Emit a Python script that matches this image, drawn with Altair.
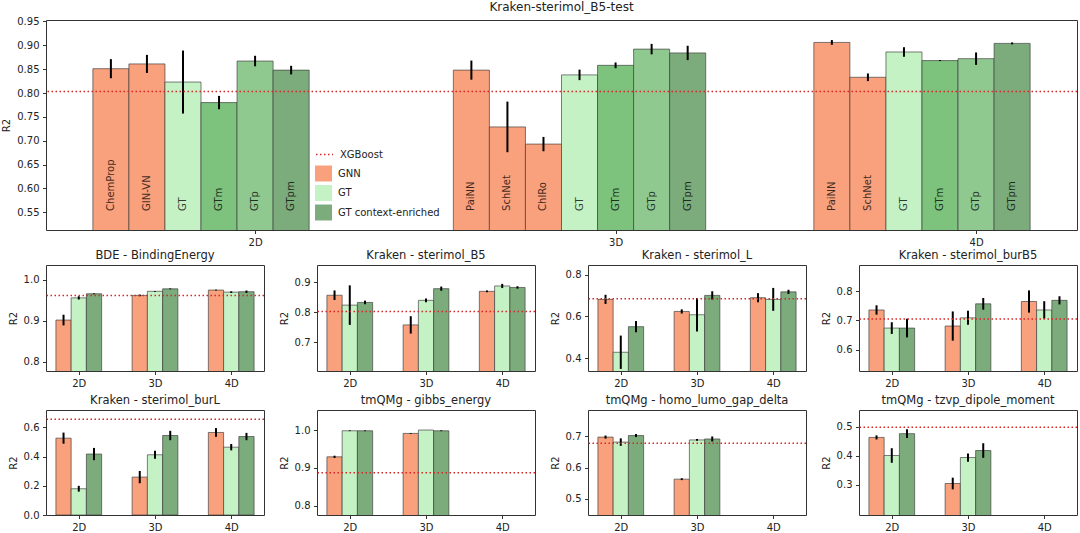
import altair as alt
import pandas as pd

FONT = "DejaVu Sans"
dims = ["2D", "3D", "4D"]

# ---- headline panel: Kraken-sterimol_B5-test, every model per dimension ----
top_models_2d = ["ChemProp", "GIN-VN", "GT", "GTm", "GTp", "GTpm"]
top_r2_2d = [0.851, 0.861, 0.823, 0.780, 0.867, 0.848]
top_err_2d = [0.020, 0.019, 0.066, 0.014, 0.011, 0.009]

top_models_3d = ["PaiNN", "SchNet", "ChIRo", "GT", "GTm", "GTp", "GTpm"]
top_r2_3d = [0.848, 0.729, 0.693, 0.838, 0.858, 0.892, 0.884]
top_err_3d = [0.020, 0.053, 0.015, 0.011, 0.006, 0.011, 0.015]

top_models_4d = ["PaiNN", "SchNet", "GT", "GTm", "GTp", "GTpm"]
top_r2_4d = [0.906, 0.833, 0.886, 0.868, 0.872, 0.904]
top_err_4d = [0.005, 0.008, 0.010, 0.001, 0.013, 0.002]

top_xgboost = 0.803
top_yticks = [0.55, 0.60, 0.65, 0.70, 0.75, 0.80, 0.85, 0.90, 0.95]

# colour family of each model
gnn_models = ["ChemProp", "GIN-VN", "PaiNN", "SchNet", "ChIRo"]
shade_of = {"GT": "GT", "GTm": "GTm", "GTp": "GTp", "GTpm": "GT context-enriched"}

shade_domain = ["GNN", "GT", "GTm", "GTp", "GT context-enriched"]
shade_range = ["#F9A07C", "#C5F2C5", "#7DC27D", "#90C990", "#7CAB7C"]
legend_values = ["GNN", "GT", "GT context-enriched"]

# ---- small panels: best model of each family per dimension ----
families = ["GNN", "GT", "GT context-enriched"]

panel_titles = [
    "BDE - BindingEnergy", "Kraken - sterimol_B5", "Kraken - sterimol_L", "Kraken - sterimol_burB5",
    "Kraken - sterimol_burL", "tmQMg - gibbs_energy", "tmQMg - homo_lumo_gap_delta", "tmQMg - tzvp_dipole_moment",
]

# rows: 2D, 3D, 4D ; columns: GNN, GT, GT context-enriched
bde_r2 = [[0.902, 0.956, 0.966], [0.962, 0.972, 0.978], [0.975, 0.970, 0.971]]
bde_err = [[0.013, 0.004, 0.001], [0.002, 0.001, 0.001], [0.001, 0.002, 0.003]]

b5_r2 = [[0.857, 0.824, 0.833], [0.758, 0.840, 0.879], [0.870, 0.888, 0.883]]
b5_err = [[0.016, 0.066, 0.006], [0.029, 0.006, 0.007], [0.003, 0.007, 0.004]]

l_r2 = [[0.682, 0.428, 0.551], [0.624, 0.608, 0.701], [0.690, 0.682, 0.718]]
l_err = [[0.022, 0.080, 0.027], [0.010, 0.080, 0.020], [0.022, 0.055, 0.010]]

burb5_r2 = [[0.736, 0.674, 0.674], [0.681, 0.709, 0.757], [0.765, 0.736, 0.769]]
burb5_err = [[0.016, 0.020, 0.032], [0.050, 0.024, 0.020], [0.038, 0.030, 0.014]]

burl_r2 = [[0.527, 0.180, 0.418], [0.260, 0.413, 0.545], [0.566, 0.465, 0.538]]
burl_err = [[0.038, 0.020, 0.042], [0.042, 0.028, 0.032], [0.030, 0.022, 0.025]]

gibbs_r2 = [[0.929, 0.998, 0.998], [0.991, 1.000, 0.998], [None, None, None]]
gibbs_err = [[0.003, 0.001, 0.001], [0.001, 0.000, 0.001], [None, None, None]]

gap_r2 = [[0.698, 0.682, 0.703], [0.563, 0.689, 0.692], [None, None, None]]
gap_err = [[0.005, 0.012, 0.005], [0.003, 0.003, 0.008], [None, None, None]]

dip_r2 = [[0.463, 0.401, 0.476], [0.305, 0.394, 0.418], [None, None, None]]
dip_err = [[0.007, 0.025, 0.015], [0.020, 0.014, 0.025], [None, None, None]]

panel_r2 = [bde_r2, b5_r2, l_r2, burb5_r2, burl_r2, gibbs_r2, gap_r2, dip_r2]
panel_err = [bde_err, b5_err, l_err, burb5_err, burl_err, gibbs_err, gap_err, dip_err]
panel_xgboost = [0.962, 0.803, 0.685, 0.705, 0.657, 0.887, 0.678, 0.498]

# axis ranges and ticks of each small panel
panel_ydomain = [
    [0.778, 1.036], [0.604, 0.958], [0.338, 0.847], [0.527, 0.890],
    [0.0, 0.720], [0.775, 1.053], [0.448, 0.785], [0.197, 0.557],
]
panel_yticks = [
    [0.8, 0.9, 1.0], [0.7, 0.8, 0.9], [0.4, 0.6, 0.8], [0.6, 0.7, 0.8],
    [0.0, 0.2, 0.4, 0.6], [0.8, 0.9, 1.0], [0.5, 0.6, 0.7], [0.3, 0.4, 0.5],
]

BAR_EDGE = dict(stroke="#3a3a3a", strokeWidth=1, strokeOpacity=0.65)
XGB_COLOR = "#d62728"
DIM_LABELS = "datum.value == 0 ? '2D' : datum.value == 1 ? '3D' : '4D'"

shade_scale = alt.Scale(domain=shade_domain, range=shade_range)


def x_axis():
    return alt.Axis(values=[0, 1, 2], labelExpr=DIM_LABELS, title=None, ticks=True,
                    labelOverlap=False)


def y_axis(values, fmt):
    return alt.Axis(values=values, format=fmt, title="R2", labelOverlap=False,
                    tickCount=len(values))


# ---------------- headline panel ----------------
top_rows = []
groups = [
    (top_models_2d, top_r2_2d, top_err_2d),
    (top_models_3d, top_r2_3d, top_err_3d),
    (top_models_4d, top_r2_4d, top_err_4d),
]
TOP_W = 0.1
for d, (models, vals, errs) in enumerate(groups):
    for k, (m, v, e) in enumerate(zip(models, vals, errs)):
        pos = d + (k - 4) * TOP_W
        top_rows.append(dict(
            model=m, r2=v, lo=v - e, hi=v + e,
            x0=pos - TOP_W / 2, x1=pos + TOP_W / 2, pos=pos,
            shade="GNN" if m in gnn_models else shade_of[m],
        ))
top_df = pd.DataFrame(top_rows)

top_x = alt.Scale(domain=[-0.58, 2.28], nice=False, zero=False)
top_y = alt.Scale(domain=[0.513, 0.953], nice=False, zero=False)

top_base = alt.Chart(top_df)
top_bars = top_base.mark_bar(clip=True, **BAR_EDGE).encode(
    x=alt.X("x0:Q", scale=top_x, axis=x_axis()),
    x2="x1:Q",
    y=alt.Y("r2:Q", scale=top_y, axis=y_axis(top_yticks, ".2f")),
    y2=alt.datum(0),
    fill=alt.Fill("shade:N", scale=shade_scale, legend=alt.Legend(
        values=legend_values, title=None, orient="none", legendX=269, legendY=145,
        symbolType="M-1,-0.94H1V0.94H-1Z", symbolSize=289, symbolStrokeWidth=0,
        symbolOpacity=1, labelFontSize=10, labelFont=FONT, labelOffset=6,
        rowPadding=2.5, labelColor="#222",
    )),
)
top_errs = top_base.mark_rule(color="black", strokeWidth=2, clip=True).encode(
    x="pos:Q", y="lo:Q", y2="hi:Q"
)
top_names = top_base.mark_text(
    angle=270, align="left", baseline="middle", fontSize=10, font=FONT,
    color="black", opacity=0.75,
).encode(x="pos:Q", y=alt.datum(0.553), text="model:N")

xgb_df = pd.DataFrame({"method": ["XGBoost"], "r2": [top_xgboost]})
top_rule = alt.Chart(xgb_df).mark_rule(strokeDash=[1.5, 2.5], strokeWidth=1.5).encode(
    y="r2:Q",
    stroke=alt.Stroke("method:N", scale=alt.Scale(domain=["XGBoost"], range=[XGB_COLOR]),
                      legend=alt.Legend(
                          title=None, orient="none", legendX=269, legendY=125,
                          symbolType="stroke", symbolDash=[1.5, 2.5], symbolStrokeWidth=1.5,
                          symbolSize=289, labelFontSize=10, labelFont=FONT, labelOffset=6,
                          labelColor="#222",
                      )),
)

top_chart = alt.layer(top_bars, top_errs, top_rule, top_names).properties(
    width=1031, height=210,
    title=alt.TitleParams("Kraken-sterimol_B5-test", fontSize=12, offset=2),
)


# ---------------- small panels ----------------
SUB_W = 0.2


def small_panel(i, height):
    rows = []
    for d, (vals, errs) in enumerate(zip(panel_r2[i], panel_err[i])):
        for k, (v, e) in enumerate(zip(vals, errs)):
            if v is None:
                continue
            pos = d + (k - 1) * SUB_W
            rows.append(dict(r2=v, lo=v - e, hi=v + e, pos=pos,
                             x0=pos - SUB_W / 2, x1=pos + SUB_W / 2, shade=families[k]))
    df = pd.DataFrame(rows)
    xs = alt.Scale(domain=[-0.43, 2.43], nice=False, zero=False)
    ys = alt.Scale(domain=panel_ydomain[i], nice=False, zero=False)
    base = alt.Chart(df)
    bars = base.mark_bar(clip=True, **BAR_EDGE).encode(
        x=alt.X("x0:Q", scale=xs, axis=x_axis()),
        x2="x1:Q",
        y=alt.Y("r2:Q", scale=ys, axis=y_axis(panel_yticks[i], ".1f")),
        y2=alt.datum(0),
        fill=alt.Fill("shade:N", scale=shade_scale, legend=None),
    )
    errs = base.mark_rule(color="black", strokeWidth=2, clip=True).encode(
        x="pos:Q", y="lo:Q", y2="hi:Q"
    )
    rule = alt.Chart(pd.DataFrame({"r2": [panel_xgboost[i]]})).mark_rule(
        color=XGB_COLOR, strokeDash=[1.5, 2.5], strokeWidth=1.5
    ).encode(y="r2:Q")
    return alt.layer(bars, errs, rule).properties(
        width=218, height=height,
        title=alt.TitleParams(panel_titles[i], fontSize=11.5, offset=4),
    )


row1 = alt.hconcat(*[small_panel(i, 106) for i in range(4)], spacing=53, bounds="flush")
row2 = alt.hconcat(*[small_panel(i, 105) for i in range(4, 8)], spacing=53, bounds="flush")
rows = alt.vconcat(row1, row2, spacing=5)

chart = alt.vconcat(top_chart, rows, spacing=1).resolve_scale(
    fill="independent", stroke="independent"
).resolve_legend(fill="independent", stroke="independent").properties(
    padding={"left": 1, "top": 0, "right": 0, "bottom": 0}
).configure_view(
    stroke="#333", strokeWidth=1
).configure_axis(
    domain=False, grid=False, tickColor="#333", tickSize=3.5, labelPadding=3.5,
    labelOverlap=False,
    labelFont=FONT, labelFontSize=10, labelColor="#222",
    titleFont=FONT, titleFontSize=10, titleFontWeight="normal", titleColor="#222", titlePadding=5,
).configure_title(
    font=FONT, fontWeight="normal", color="#222"
).configure_legend(
    padding=0
)

chart.save("out.html", embed_options={"renderer": "svg", "actions": False})
